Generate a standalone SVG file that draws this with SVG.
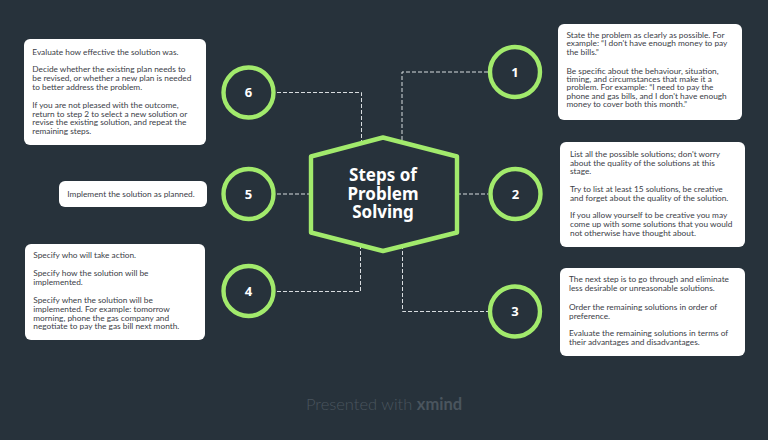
<svg xmlns="http://www.w3.org/2000/svg" width="768" height="440" viewBox="0 0 768 440">
<style>
.box{fill:#ffffff;}
.t{font-family:Lato,"Liberation Sans",sans-serif;font-size:8.3px;fill:#3b4047;}
.ring{fill:#27323b;stroke:#a2ea6c;stroke-width:4.4;}
.num{font-family:"Noto Sans","Liberation Sans",sans-serif;font-size:13px;font-weight:bold;fill:#ffffff;text-anchor:middle;}
.conn{fill:none;stroke:#d8dcdf;stroke-width:1;stroke-dasharray:4 2;}
</style>
<rect width="768" height="440" fill="#27323b"/>
<g id="connectors">
<path class="conn" d="M277,92.5 H361.5 V143"/>
<path class="conn" d="M488,72 H402 V143"/>
<path class="conn" d="M457,194 H488"/>
<path class="conn" d="M277,194 H311"/>
<path class="conn" d="M277,291.5 H360.5 V245"/>
<path class="conn" d="M402.5,245 V311.5 H488"/>
</g>
<g id="center">
<polygon points="383,137.5 457,156.5 457,232.5 383,251 311,232.5 311,156.5" fill="#27323b" stroke="#a2ea6c" stroke-width="4.4" stroke-linejoin="round"/>
<text font-family="'Noto Sans','Liberation Sans',sans-serif" font-size="17" font-weight="bold" fill="#ffffff" text-anchor="middle"><tspan x="383" y="181">Steps of</tspan><tspan x="383" y="199.5">Problem</tspan><tspan x="383" y="218">Solving</tspan></text>
</g>
<g id="step1">
<circle class="ring" cx="515" cy="72" r="25"/>
<text class="num" x="515" y="76.5">1</text>
<rect class="box" x="558" y="24" width="184" height="96" rx="6"/>
<text class="t"><tspan x="566.5" y="37.7">State the problem as clearly as possible. For</tspan><tspan x="566.5" y="46.3">example: “I don't have enough money to pay</tspan><tspan x="566.5" y="54.7">the bills.”</tspan><tspan x="566.5" y="73.7">Be specific about the behaviour, situation,</tspan><tspan x="566.5" y="82">timing, and circumstances that make it a</tspan><tspan x="566.5" y="90.3">problem. For example: “I need to pay the</tspan><tspan x="566.5" y="98.7">phone and gas bills, and I don't have enough</tspan><tspan x="566.5" y="107.3">money to cover both this month.”</tspan></text>
</g>
<g id="step2">
<circle class="ring" cx="515.5" cy="194" r="25"/>
<text class="num" x="515.5" y="198.5">2</text>
<rect class="box" x="560" y="142" width="185" height="105" rx="6"/>
<text class="t"><tspan x="570" y="157">List all the possible solutions; don't worry</tspan><tspan x="570" y="165.5">about the quality of the solutions at this</tspan><tspan x="570" y="174.3">stage.</tspan><tspan x="570" y="192">Try to list at least 15 solutions, be creative</tspan><tspan x="570" y="201">and forget about the quality of the solution.</tspan><tspan x="570" y="218">If you allow yourself to be creative you may</tspan><tspan x="570" y="227">come up with some solutions that you would</tspan><tspan x="570" y="235.5">not otherwise have thought about.</tspan></text>
</g>
<g id="step3">
<circle class="ring" cx="515" cy="311.5" r="25"/>
<text class="num" x="515" y="316">3</text>
<rect class="box" x="560" y="268" width="185" height="88" rx="6"/>
<text class="t"><tspan x="569" y="282">The next step is to go through and eliminate</tspan><tspan x="569" y="291">less desirable or unreasonable solutions.</tspan><tspan x="569" y="309.5">Order the remaining solutions in order of</tspan><tspan x="569" y="318.5">preference.</tspan><tspan x="569" y="336">Evaluate the remaining solutions in terms of</tspan><tspan x="569" y="345.3">their advantages and disadvantages.</tspan></text>
</g>
<g id="step4">
<circle class="ring" cx="248.5" cy="291" r="25"/>
<text class="num" x="248.5" y="295.5">4</text>
<rect class="box" x="25" y="244" width="180" height="96" rx="6"/>
<text class="t"><tspan x="33.3" y="258">Specify who will take action.</tspan><tspan x="33.3" y="275.5">Specify how the solution will be</tspan><tspan x="33.3" y="284.5">implemented.</tspan><tspan x="33.3" y="303">Specify when the solution will be</tspan><tspan x="33.3" y="311.5">implemented. For example: tomorrow</tspan><tspan x="33.3" y="320.5">morning, phone the gas company and</tspan><tspan x="33.3" y="329">negotiate to pay the gas bill next month.</tspan></text>
</g>
<g id="step5">
<circle class="ring" cx="248.5" cy="194" r="25"/>
<text class="num" x="248.5" y="198.5">5</text>
<rect class="box" x="59" y="181" width="148" height="26" rx="6"/>
<text class="t" x="67.3" y="196.5">Implement the solution as planned.</text>
</g>
<g id="step6">
<circle class="ring" cx="248.5" cy="92.5" r="25"/>
<text class="num" x="248.5" y="97">6</text>
<rect class="box" x="24" y="39" width="182" height="106" rx="6"/>
<text class="t"><tspan x="32.3" y="54.5">Evaluate how effective the solution was.</tspan><tspan x="32.3" y="71.5">Decide whether the existing plan needs to</tspan><tspan x="32.3" y="80.5">be revised, or whether a new plan is needed</tspan><tspan x="32.3" y="89.5">to better address the problem.</tspan><tspan x="32.3" y="108">If you are not pleased with the outcome,</tspan><tspan x="32.3" y="116.5">return to step 2 to select a new solution or</tspan><tspan x="32.3" y="125">revise the existing solution, and repeat the</tspan><tspan x="32.3" y="134">remaining steps.</tspan></text>
</g>
<text x="384" y="410" font-family="Lato,'Liberation Sans',sans-serif" font-size="16.5" fill="#4a555e" text-anchor="middle"><tspan font-weight="300">Presented with </tspan><tspan font-weight="bold">xmind</tspan></text>
</svg>
